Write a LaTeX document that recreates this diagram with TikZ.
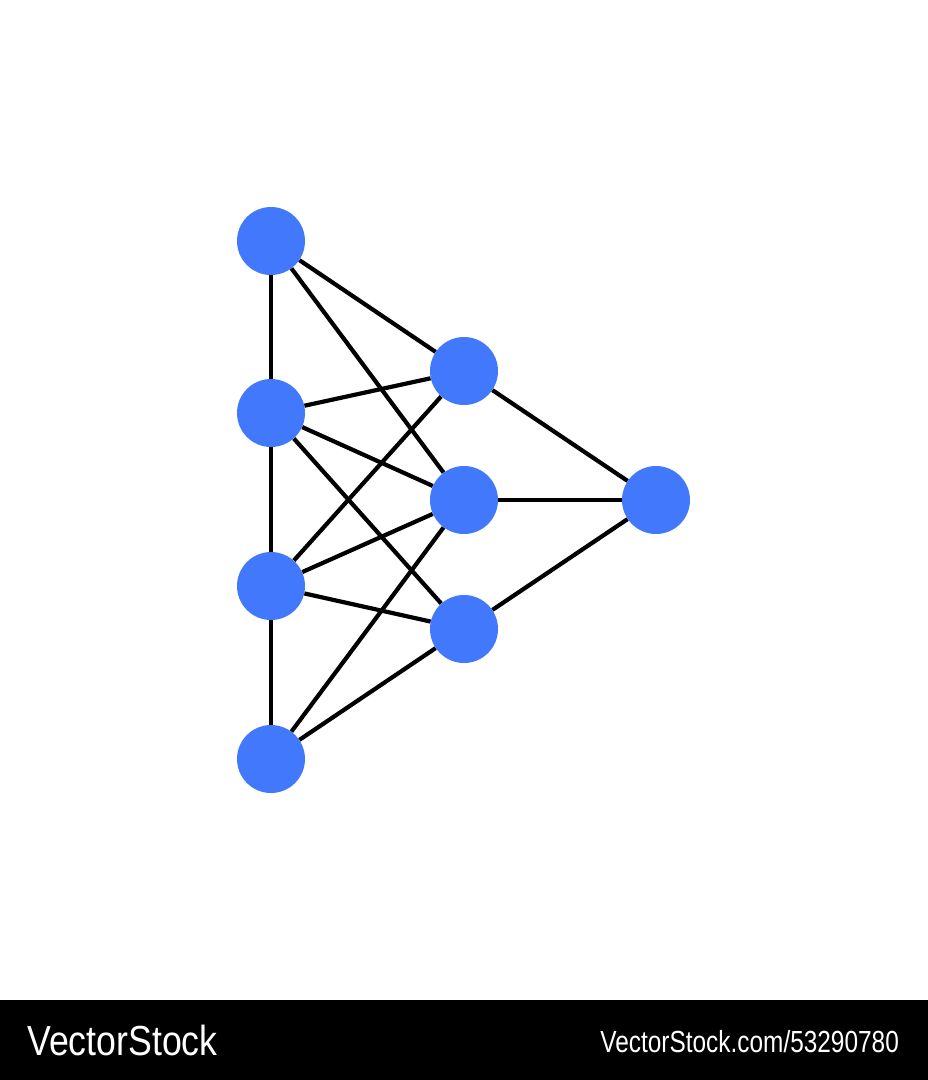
\documentclass[tikz,border=0pt]{standalone}
\usepackage{fontspec}
\setmainfont{Liberation Sans}
\usetikzlibrary{backgrounds}
\definecolor{nodeblue}{HTML}{4279FC}
\begin{document}
\begin{tikzpicture}[x=1pt,y=-1pt,
  neuron/.style={circle,fill=nodeblue,minimum size=68pt,inner sep=0pt},
  link/.style={line width=4.2pt,black},
  wm/.style={text=white,inner sep=0pt}]
\useasboundingbox (0,0) rectangle (928,1080);
% neurons
\node[neuron] (a) at (271,241) {};
\node[neuron] (b) at (271,413) {};
\node[neuron] (c) at (271,586) {};
\node[neuron] (d) at (271,759) {};
\node[neuron] (m1) at (464,371) {};
\node[neuron] (m2) at (464,500) {};
\node[neuron] (m3) at (464,629) {};
\node[neuron] (o) at (656,500) {};
\begin{scope}[on background layer]
\fill[white] (0,0) rectangle (928,1000);
\draw[link] (a) -- (b);
\draw[link] (b) -- (c);
\draw[link] (c) -- (d);
\draw[link] (a) -- (m1);
\draw[link] (a) -- (m2);
\draw[link] (b) -- (m1);
\draw[link] (b) -- (m2);
\draw[link] (b) -- (m3);
\draw[link] (c) -- (m1);
\draw[link] (c) -- (m2);
\draw[link] (c) -- (m3);
\draw[link] (d) -- (m2);
\draw[link] (d) -- (m3);
\draw[link] (m1) -- (o);
\draw[link] (m2) -- (o);
\draw[link] (m3) -- (o);
\end{scope}
% watermark bar
\fill[black] (0,1000) rectangle (928,1080);
\node[wm,anchor=base west,xscale=0.85] (wl) at (27,1055) {\fontsize{42}{42}\selectfont VectorStock};
\node[wm,anchor=base east,xscale=0.8] (wr) at (899,1052) {\fontsize{30.5}{30.5}\selectfont VectorStock.com/53290780};
\end{tikzpicture}
\end{document}
